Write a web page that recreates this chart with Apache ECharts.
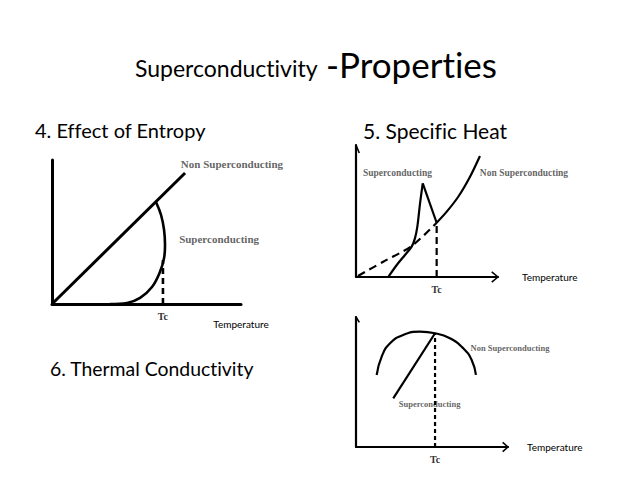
<!DOCTYPE html>
<html>
<head>
<meta charset="utf-8">
<script src="https://cdn.jsdelivr.net/npm/echarts@6/dist/echarts.min.js"></script>
<style>
html,body{margin:0;padding:0;background:#fff}
#c{width:638px;height:479px}
#c text{font-variant-ligatures:none !important;font-feature-settings:"liga" 0,"clig" 0 !important}
</style>
</head>
<body>
<div id="c"></div>
<script>
// ---- Data (arbitrary 0..10 units) ----
const tickLabels = ['Tc'];
const axisName = 'Temperature';
// 4. Effect of Entropy
const entropyNormal = [[0,0],[7.04,9.1]];
const entropySuper = [[5.5,7.08],[5.77,6.18],[5.93,5.14],[5.98,4.1],[5.93,3.19],[5.71,2.22],[5.29,1.18],[4.66,0.42],[3.97,0.07],[3.07,0]];
const entropyTc = [[5.87,0],[5.87,3.06]];
const entropyTcValue = [5.87];
const entropyLabels = [['Non Superconducting',9.52,9.72],['Superconducting',8.84,4.51]];
// 5. Specific Heat
const heatSuperRise = [[2.27,0],[2.87,0.91],[3.45,1.67],[3.92,2.3],[4.15,2.93],[4.32,3.81],[4.51,5.58],[4.7,7.1]];
const heatSuperDrop = [[4.7,7.1],[5.68,4.11]];
const heatNormal = [[5.68,4.11],[6.39,4.95],[7.2,6.08],[8.03,7.6],[8.73,9.17]];
const heatNormalExtrap = [[0.14,0.08],[1.92,1.16],[3.92,2.35],[5.68,4.11]];
const heatTc = [[5.68,0],[5.68,4.11]];
const heatTcValue = [5.68];
const heatLabels = [['Superconducting',2.92,7.88],['Non Superconducting',11.83,7.88]];
const heatArrowY = [[-0.23,9.39],[0,10],[0.23,9.39]];
const heatArrowX = [[9.56,0.38],[10,0],[9.56,-0.38]];
// 6. Thermal Conductivity
const thermalNormal = [[1.36,5.54],[1.69,6.95],[2.24,7.98],[3.11,8.62],[4.21,8.87],[5.2,8.75],[6.18,8.36],[7.06,7.59],[7.61,6.69],[7.89,5.54]];
const thermalSuper = [[2.45,3.74],[5.2,8.75]];
const thermalTc = [[5.2,0],[5.2,8.75]];
const thermalTcValue = [5.2];
const thermalLabels = [['Non Superconducting',10.13,7.59],['Superconducting',4.84,3.31]];
const thermalArrowY = [[-0.22,9.59],[0,10],[0.22,9.59]];
const thermalArrowX = [[9.65,0.36],[10,0],[9.65,-0.36]];

// ---- Chart ----
const chart = echarts.init(document.getElementById('c'), null, {renderer:'svg'});
const serif = 'Liberation Serif';
const sans = 'Lato';
function xAx(gi, tcVals, lw, nameCfg){
  return Object.assign({type:'value', gridIndex:gi, min:0, max:10,
    axisLine:{show:true, onZero:false, lineStyle:{color:'#000', width:lw}},
    axisTick:{show:false}, splitLine:{show:false},
    axisLabel:{customValues:tcVals, formatter:()=>tickLabels[0], margin:7,
      fontFamily:serif, fontWeight:'bold', fontSize:10, color:'#333'}}, nameCfg);
}
function yAx(gi, lw){
  return {type:'value', gridIndex:gi, min:0, max:10,
    axisLine:{show:true, onZero:false, lineStyle:{color:'#000', width:lw}},
    axisTick:{show:false}, splitLine:{show:false}, axisLabel:{show:false}};
}
function line(gi, data, lw, opts){
  return Object.assign({type:'line', xAxisIndex:gi, yAxisIndex:gi, data:data, symbol:'none',
    clip:false, silent:true, lineStyle:{color:'#000', width:lw}}, opts||{});
}
function labels(gi, arr, fs){
  return {type:'scatter', xAxisIndex:gi, yAxisIndex:gi, symbolSize:0, clip:false, silent:true,
    data:arr.map(a=>({name:a[0], value:[a[1],a[2]]})),
    label:{show:true, position:'inside', formatter:'{b}', fontFamily:serif, fontWeight:'bold',
      fontSize:fs, color:'#3a3a3a'}};
}
function ttl(text, left, top, fs){
  return {text:text, left:left, top:top, padding:0,
    textStyle:{fontFamily:sans, fontWeight:'normal', fontSize:fs, color:'#000'}};
}
chart.setOption({
  backgroundColor:'#fff',
  animation:false,
  title:[
    ttl('Superconductivity', 135, 56, 23),
    ttl('-Properties', 326, 46, 35),
    ttl('4. Effect of Entropy', 35, 120, 20),
    ttl('5. Specific Heat', 363, 120, 21),
    ttl('6. Thermal Conductivity', 50, 359, 19.4)
  ],
  grid:[
    {left:52, top:160, width:189, height:144},
    {left:356, top:145, width:142, height:132},
    {left:356, top:317, width:152, height:130}
  ],
  xAxis:[
    xAx(0, entropyTcValue, 3, {name:axisName, nameLocation:'end', nameGap:0,
      nameTextStyle:{fontFamily:sans, fontSize:10, color:'#000', align:'center', verticalAlign:'top', padding:[15,0,0,0]}}),
    xAx(1, heatTcValue, 2.2, {name:axisName, nameLocation:'end', nameGap:24,
      nameTextStyle:{fontFamily:sans, fontSize:10, color:'#000'}}),
    xAx(2, thermalTcValue, 2.2, {name:axisName, nameLocation:'end', nameGap:19,
      nameTextStyle:{fontFamily:sans, fontSize:10, color:'#000'}})
  ],
  yAxis:[yAx(0,3), yAx(1,2.2), yAx(2,2.2)],
  series:[
    line(0, entropyNormal, 3),
    line(0, entropySuper, 2.6, {smooth:0.4}),
    line(0, entropyTc, 2.6, {lineStyle:{color:'#000', width:2.6, type:[6,4]}}),
    labels(0, entropyLabels, 11),
    line(1, heatSuperRise, 2.2, {smooth:0.3}),
    line(1, heatSuperDrop, 2.2),
    line(1, heatNormal, 2.2, {smooth:0.3}),
    line(1, heatNormalExtrap, 2.2, {smooth:0.3, lineStyle:{color:'#000', width:2.2, type:[8,5]}}),
    line(1, heatTc, 2.2, {lineStyle:{color:'#000', width:2.2, type:[7,4]}}),
    line(1, heatArrowY, 1.6),
    line(1, heatArrowX, 1.6),
    labels(1, heatLabels, 9.5),
    line(2, thermalNormal, 2.2, {smooth:0.5}),
    line(2, thermalSuper, 2.2),
    line(2, thermalTc, 2.2, {lineStyle:{color:'#000', width:2.2, type:[4,3]}}),
    line(2, thermalArrowY, 1.6),
    line(2, thermalArrowX, 1.6),
    labels(2, thermalLabels, 8.5)
  ]
});
</script>
</body>
</html>
